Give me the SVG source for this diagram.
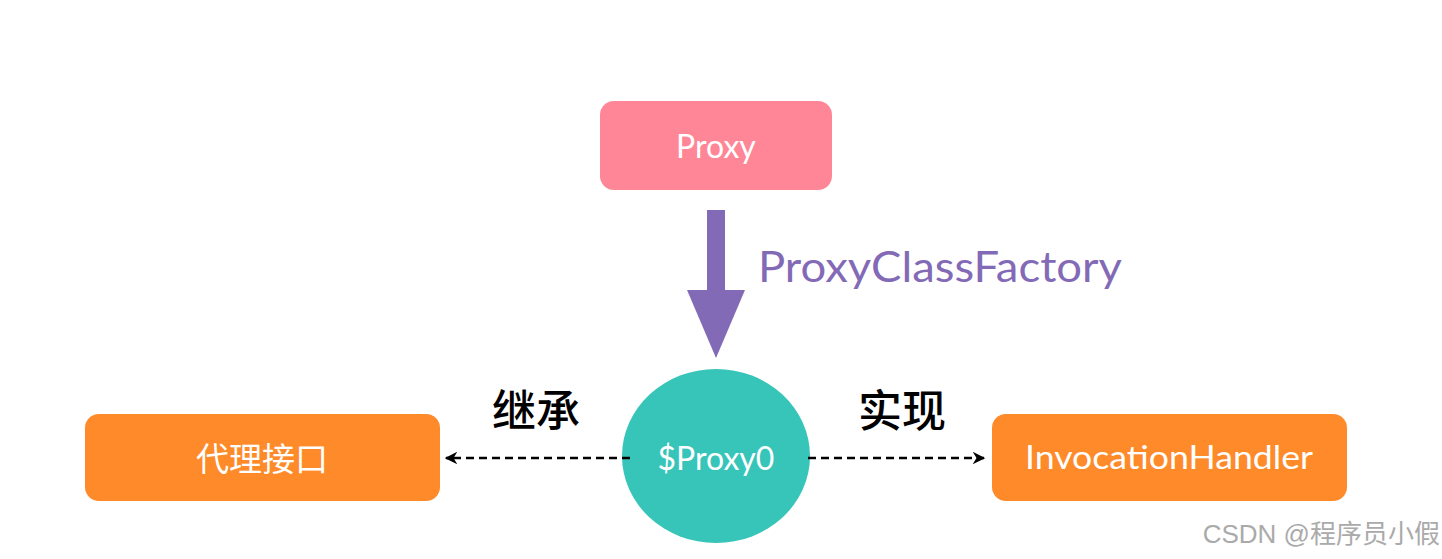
<svg xmlns="http://www.w3.org/2000/svg" width="1442" height="559" viewBox="0 0 1442 559">
<style>
.lbl{font-family:Lato,"Open Sans","Noto Sans CJK SC",sans-serif;fill:#fff;text-anchor:middle}
.cn{font-family:"Noto Sans CJK SC",sans-serif;fill:#000;font-weight:500;text-anchor:middle}
.dash{stroke:#000;stroke-width:2.5;stroke-dasharray:8 5;fill:none}
</style>
<defs>
<marker id="ah" viewBox="0 0 10 10" refX="9" refY="5" markerWidth="5" markerHeight="5" orient="auto-start-reverse" markerUnits="strokeWidth">
<path d="M0,0 L10,5 L0,10 L3,5 Z" fill="#000"/>
</marker>
</defs>
<rect width="1442" height="559" fill="#fff"/>
<g id="proxy">
<rect x="600" y="101" width="232" height="89" rx="14" fill="#FF8696"/>
<text class="lbl" x="716" y="158" font-size="32">Proxy</text>
</g>
<g id="proxy0">
<ellipse cx="716" cy="456" rx="94" ry="87" fill="#36C5B8"/>
<text class="lbl" x="716" y="470" font-size="32">$Proxy0</text>
</g>
<g id="iface">
<rect x="85" y="414" width="355" height="87" rx="14" fill="#FE8A2A"/>
<text class="lbl" x="262" y="471" font-size="33" font-family="'Noto Sans CJK SC',sans-serif">代理接口</text>
</g>
<g id="handler">
<rect x="992" y="414" width="355" height="87" rx="14" fill="#FE8A2A"/>
<text class="lbl" x="1169" y="469" font-size="32" textLength="288" lengthAdjust="spacingAndGlyphs">InvocationHandler</text>
</g>
<g id="connectors">
<path d="M716,210 L716,290" stroke="#836AB6" stroke-width="18" fill="none"/>
<polygon points="687,290 745,290 716,358" fill="#836AB6"/>
<text x="758" y="282" font-family="Lato,'Open Sans',sans-serif" font-size="42" fill="#836AB6" textLength="364" lengthAdjust="spacingAndGlyphs">ProxyClassFactory</text>
<line class="dash" x1="630" y1="458" x2="446" y2="458" marker-end="url(#ah)"/>
<line class="dash" x1="808" y1="458" x2="984" y2="458" marker-end="url(#ah)"/>
<text class="cn" x="536" y="427" font-size="44">继承</text>
<text class="cn" x="902" y="427" font-size="44">实现</text>
</g>
<text x="1440" y="543" font-family="'Liberation Sans','Noto Sans CJK SC',sans-serif" font-size="26" fill="#aaa" text-anchor="end">CSDN @程序员小假</text>
</svg>
